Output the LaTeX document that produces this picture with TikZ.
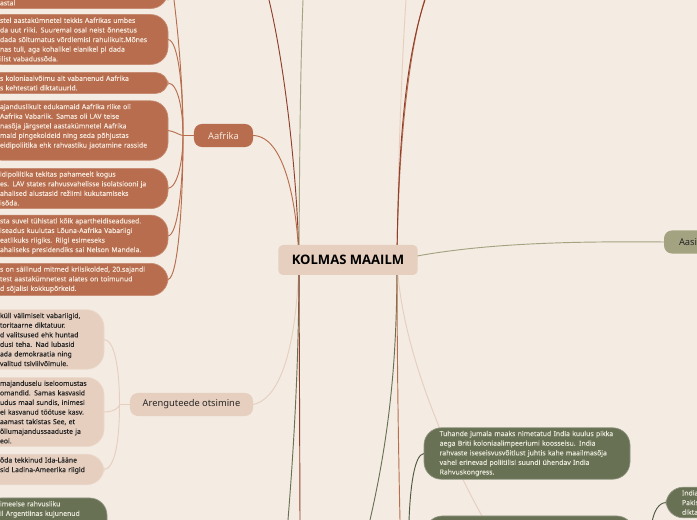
\documentclass[tikz,border=0pt]{standalone}
\usepackage{fontspec}
\setmainfont{Noto Sans}
\newfontfamily\notefont{Noto Sans}[FakeBold=0.15]
\newfontfamily\titlefont{Open Sans}
\usetikzlibrary{backgrounds}

% Colours of the branches
\definecolor{paper}{HTML}{F4EBE2}
\definecolor{sand}{HTML}{E6CFBF}
\definecolor{clay}{HTML}{B86E4E}
\definecolor{rust}{HTML}{8F3F2B}
\definecolor{moss}{HTML}{697155}
\definecolor{fern}{HTML}{4E5A42}
\definecolor{olive}{HTML}{A3A382}
\definecolor{claytext}{HTML}{F6E7DC}
\definecolor{mosstext}{HTML}{E6E7D8}

\tikzset{
    topic/.style={rounded corners=6pt, minimum height=17.3pt, inner sep=0pt, outer sep=0pt, font=\fontsize{7}{9}\selectfont},
    note/.style={rounded corners=13pt, inner xsep=12pt, inner ysep=2.3pt, outer sep=0pt, align=left, font=\notefont\fontsize{5.15}{7.2}\selectfont},
    claynote/.style={note, fill=clay, draw=clay!80!white, line width=0.5pt, text=claytext},
    sandnote/.style={note, fill=sand, draw=sand!80!white, line width=0.5pt, text=black!85},
    mossnote/.style={note, fill=moss, draw=moss!75!white, line width=0.5pt, text=mosstext},
    link/.style={line width=0.7pt}
}

\begin{document}
\begin{tikzpicture}[x=0.75pt, y=-0.75pt]

    % Fix the page to the size of the reference
    \useasboundingbox (0,0) rectangle (697,520);
    \clip (0,0) rectangle (697,520);

    % The central topic and the four branches
    \node[fill=sand, rounded corners=3.5pt, minimum width=104.5pt, minimum height=22.5pt, inner sep=0pt, outer sep=0pt, font=\titlefont\fontsize{9.8}{11}\selectfont\bfseries] (Centre) at (348,260) {KOLMAS MAAILM};
    \node[topic, fill=clay, text=claytext, minimum width=44.3pt] (Aafrika) at (223.5,135.5) {Aafrika};
    \node[topic, fill=sand, text=black!85, minimum width=92.3pt] (Arengu) at (191.5,404.5) {Arenguteede otsimine};
    \node[topic, fill=olive, text=black!85, anchor=west, minimum width=60pt, align=left, text width=48.75pt, inner xsep=11.25pt] (Aasia) at (664,242) {Aasi};

    % Notes of Aafrika, the left part is cut off by the page
    \node[claynote, anchor=south east, text width=114pt] (aaf0) at (168,8.5) {~\\~\\astal};
    \node[claynote, anchor=east, text width=114pt] (aaf1) at (168,39.5) {stel aastakümnetel tekkis Aafrikas umbes\\da uut riiki. Suuremal osal neist õnnestus\\dada sõltumatus võrdlemisi rahulikult.Mõnes\\nas tuli, aga kohalikel elanikel pi dada\\ilist vabadussõda.};
    \node[claynote, rounded corners=9.5pt, anchor=east, text width=114pt] (aaf2) at (168,83) {s koloniaalvõimu alt vabanenud Aafrika\\s kehtestati diktatuurid.};
    \node[claynote, anchor=east, text width=114pt] (aaf3) at (168,130.5) {ajanduslikult edukamaid Aafrika riike oli\\Aafrika Vabariik. Samas oli LAV teise\\nasõja järgsetel aastakümnetel Aafrika\\maid pingekoldeid ning seda põhjustas\\eidipoliitika ehk rahvastiku jaotamine rasside\\~};
    \node[claynote, anchor=east, text width=114pt] (aaf4) at (168,188.5) {idipoliitika tekitas pahameelt kogus\\es. LAV states rahvusvahelisse isolatsiooni ja\\ahalised alustasid režiimi kukutamiseks\\isõda.};
    \node[claynote, anchor=east, text width=114pt] (aaf5) at (168,236) {sta suvel tühistati kõik apartheidiseadused.\\iseadus kuulutas Lõuna-Aafrika Vabariigi\\eatlikuks riigiks. Riigi esimeseks\\ahaliseks presidendiks sai Nelson Mandela.};
    \node[claynote, anchor=east, text width=114pt] (aaf6) at (168,279.5) {s on säilinud mitmed kriisikolded, 20.sajandi\\test aastakümnetest alates on toimunud\\d sõjalisi kokkupõrkeid.};

    % Notes of Arenguteede otsimine
    \node[sandnote, anchor=east, text width=66pt] (are1) at (104,339.5) {küll välimiselt vabariigid,\\toritaarne diktatuur.\\d valitsused ehk huntad\\dusi teha. Nad lubasid\\ada demokraatia ning\\valitud tsiviilvõimule.};
    \node[sandnote, anchor=east, text width=66pt] (are2) at (104,412) {majanduselu iseloomustas\\omandid. Samas kasvasid\\udus maal sundis, inimesi\\ei kasvanud töötuse kasv.\\aamast takistas See, et\\õllumajandussaaduste ja\\eoi.};
    \node[sandnote, anchor=east, text width=66pt] (are3) at (104,469.5) {õda tekkinud Ida-Lääne\\sid Ladina-Ameerika riigid\\~};

    % Notes that hang below the page
    \node[mossnote, anchor=north east, text width=68.25pt] (lat1) at (107,498) {imeelse rahvusliku\\il Argentiinas kujunenud\\~\\~};
    \node[mossnote, anchor=east, text width=131pt, inner xsep=11.75pt] (Tuhande) at (630,453.5) {Tuhande jumala maaks nimetatud India kuulus pikka\\aega Briti koloniaalimpeeriumi koosseisu. India\\rahvaste iseseisvusvõitlust juhtis kahe maailmasõja\\vahel erinevad poliitilisi suundi ühendav India\\Rahvuskongress.};
    \node[mossnote, anchor=north west, minimum width=156.75pt, minimum height=30pt] (Hiina) at (425,516) {};
    \node[mossnote, anchor=west, text width=60pt] (India) at (666,502.5) {India\\Pakis\\dikta};

    % Points where the branches start and leave the page
    \coordinate (centreL) at (299,260);
    \coordinate (centreR) at (397,260);
    \coordinate (rustL) at (269,0);
    \coordinate (oliveL) at (303,0);
    \coordinate (rustR) at (425,0);
    \coordinate (clayR) at (424.5,0);
    \coordinate (sandR) at (406,0);
    \coordinate (rustD) at (300,520);
    \coordinate (mossL) at (288,520);
    \coordinate (mossD) at (370,520);
    \coordinate (clayD) at (400,520);
    \coordinate (sandD) at (482,516);
    \coordinate (fernD) at (409,522);
    \coordinate (fernE) at (652,522);
    \coordinate (aaf0up) at (174,0);
    \coordinate (aafjoin) at (183,135.5);
    \coordinate (arejoin) at (119.5,404.5);

    % All the connectors lie behind the nodes
    \begin{pgfonlayer}{background}
    \clip (0,0) rectangle (697,520);
    \fill[paper] (0,0) rectangle (697,520);

    % Branches that leave the centre
    \draw[link, rust] (rustL) .. controls (284,62) and (297,170) .. (centreL);
    \draw[link, olive] (oliveL) .. controls (300,80) and (299.5,170) .. (centreL);
    \draw[link, clay] (Aafrika.east) .. controls (285,136) and (297,205) .. (centreL);
    \draw[link, sand] (Arengu.east) .. controls (284,398) and (297,335) .. (centreL);
    \draw[link, moss] (centreL) .. controls (299,340) and (296,420) .. (mossL);
    \draw[link, rust] (centreL) -- (rustD);
    \draw[link, sand] (sandR) .. controls (402,60) and (398,160) .. (centreR);
    \draw[link, clay] (clayR) .. controls (408,55) and (398,150) .. (centreR);
    \draw[link, rust] (rustR) .. controls (405,60) and (398,150) .. (centreR);
    \draw[link, olive] (Aasia.west) .. controls (560,241) and (470,244) .. (centreR);
    \draw[link, sand] (centreR) .. controls (400,340) and (440,440) .. (sandD);
    \draw[link, moss] (centreR) .. controls (397,340) and (393,420) .. (mossD);
    \draw[link, clay] (centreR) .. controls (397,340) and (398,430) .. (clayD);

    % Aafrika and its notes
    \draw[link, clay] (Aafrika.west) -- (aafjoin);
    \draw[link, clay] (aaf0up) .. controls (179,40) and (183,90) .. (aafjoin);
    \draw[link, clay] (aaf1.east) .. controls (178,40) and (183,85) .. (aafjoin);
    \draw[link, clay] (aaf2.east) .. controls (178,83) and (183,110) .. (aafjoin);
    \draw[link, clay] (aaf3.east) .. controls (174,131) and (180,135.5) .. (aafjoin);
    \draw[link, clay] (aaf4.east) .. controls (178,187) and (183,160) .. (aafjoin);
    \draw[link, clay] (aaf5.east) .. controls (178,235) and (183,185) .. (aafjoin);
    \draw[link, clay] (aaf6.east) .. controls (178,278) and (183,205) .. (aafjoin);

    % Arenguteede otsimine and its notes
    \draw[link, sand] (Arengu.west) -- (arejoin);
    \draw[link, sand] (are1.east) .. controls (115,340) and (119.5,370) .. (arejoin);
    \draw[link, sand] (are2.east) .. controls (113,412) and (119.5,408) .. (arejoin);
    \draw[link, sand] (are3.east) .. controls (115,469) and (119.5,440) .. (arejoin);

    % Notes of Aasia
    \draw[link, fern] (Tuhande.west) .. controls (414,454) and (410,490) .. (fernD);
    \draw[link, fern] (India.west) .. controls (658,503) and (654,512) .. (fernE);
    \end{pgfonlayer}

\end{tikzpicture}
\end{document}
